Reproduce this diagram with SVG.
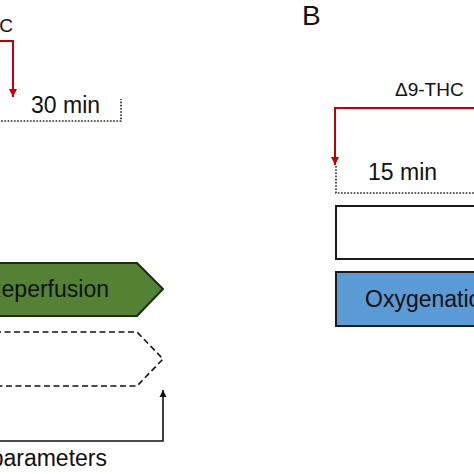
<svg xmlns="http://www.w3.org/2000/svg" width="474" height="474" viewBox="0 0 474 474">
<style>
text{font-family:"Liberation Sans",Arial,sans-serif;fill:#111}
.t{font-size:23px}
.s{font-size:19px}
.red{fill:none;stroke:#c00000;stroke-width:2}
.dot{fill:none;stroke:#222;stroke-width:1.6;stroke-dasharray:1.6 1.6}
.blk{fill:none;stroke:#111;stroke-width:1.6}
</style>
<defs>
<marker id="ar" viewBox="0 0 10 10" refX="10" refY="5" markerWidth="4" markerHeight="4" orient="auto" markerUnits="strokeWidth"><path d="M0,0L10,5L0,10z" fill="#c00000"/></marker>
<marker id="ab" viewBox="0 0 10 10" refX="10" refY="5" markerWidth="4.5" markerHeight="4.5" orient="auto" markerUnits="strokeWidth"><path d="M0,0L10,5L0,10z" fill="#111"/></marker>
</defs>
<rect width="474" height="474" fill="#fff"/>
<g id="connectors">
<path class="red" d="M-2,41H13V97" marker-end="url(#ar)"/>
<path class="dot" d="M-2,121H121V99"/>
<path class="red" d="M476,108H335V165" marker-end="url(#ar)"/>
<path class="dot" d="M336,166V193H476"/>
<path class="blk" d="M-2,441H163V390" marker-end="url(#ab)"/>
</g>
<g id="labelA">
<text class="s" x="13" y="32" text-anchor="end">Δ9-THC</text>
<text class="t" x="31" y="113">30 min</text>
</g>
<g id="reperfusion">
<path d="M-5,263H137L163,289L137,316H-5Z" fill="#548235" stroke="#1e2b12" stroke-width="2"/>
<text class="t" x="109" y="297" text-anchor="end">Reperfusion</text>
</g>
<g id="dashed">
<path d="M-5,332H137L163,359L137,386H-5Z" fill="none" stroke="#111" stroke-width="1.6" stroke-dasharray="6 3.5"/>
</g>
<g id="params">
<text class="t" x="107" y="466" text-anchor="end">parameters</text>
</g>
<g id="labelB">
<text x="302" y="25" style="font-size:28px">B</text>
<text class="s" x="395" y="96">Δ9-THC</text>
<text class="t" x="368" y="180">15 min</text>
</g>
<g id="whitebox">
<rect x="336" y="206" width="150" height="53" fill="#fff" stroke="#1a1a1a" stroke-width="2"/>
</g>
<g id="oxygenation">
<rect x="336" y="272" width="150" height="54" fill="#5b9bd5" stroke="#1a1a1a" stroke-width="2"/>
<text class="t" x="365" y="307">Oxygenation</text>
</g>
</svg>
